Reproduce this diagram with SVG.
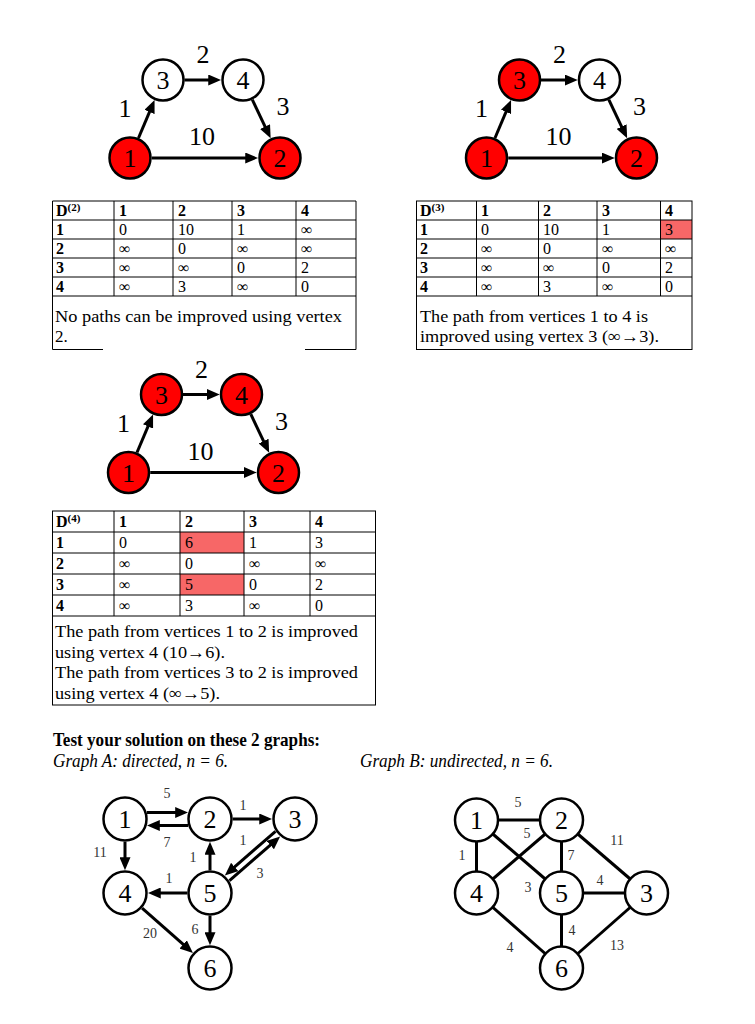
<svg xmlns="http://www.w3.org/2000/svg" width="755" height="1024" viewBox="0 0 755 1024">
<style>
.bg{fill:#fff}
.node circle{stroke:#000;stroke-width:2.5}
.red{fill:#ff0000}
.wht{fill:#fff}
.nl{font-family:"Liberation Serif",serif;font-size:26px;text-anchor:middle;fill:#000}
.el{font-family:"Liberation Serif",serif;font-size:26px;text-anchor:middle;fill:#000}
.wl{font-family:"Liberation Serif",serif;font-size:14px;text-anchor:middle;fill:#333}
.e{stroke:#000;stroke-width:3;fill:none}
.ea{marker-end:url(#ah)}
.tb{stroke:#000;stroke-width:1;fill:none}
.ct{font-family:"Liberation Serif",serif;font-size:16px;fill:#000}
.b{font-weight:bold}
.tx{font-family:"Liberation Serif",serif;font-size:17px;fill:#000}
.hl{fill:#f76767}
.h1{font-family:"Liberation Serif",serif;font-size:19px;font-weight:bold;fill:#000}
.h2{font-family:"Liberation Serif",serif;font-size:19px;font-style:italic;fill:#000}
</style>
<defs>
<marker id="ah" markerUnits="userSpaceOnUse" markerWidth="13" markerHeight="11" refX="8" refY="5.5" orient="auto" viewBox="0 0 13 11"><path d="M0,0 L13,5.5 L0,11 z" fill="#000"/></marker>
</defs>
<rect class="bg" x="0" y="0" width="755" height="1024"/>

<!-- Table D(2) -->
<g id="table-d2">
<g class="ct">
<text class="b" x="56" y="215.5">D<tspan font-size="11" dy="-5">(2)</tspan></text>
<text class="b" x="119" y="215.5">1</text><text class="b" x="178" y="215.5">2</text><text class="b" x="237" y="215.5">3</text><text class="b" x="301" y="215.5">4</text>
<text class="b" x="56" y="234.5">1</text><text x="119" y="234.5">0</text><text x="178" y="234.5">10</text><text x="237" y="234.5">1</text><text x="301" y="234.5">∞</text>
<text class="b" x="56" y="253.5">2</text><text x="119" y="253.5">∞</text><text x="178" y="253.5">0</text><text x="237" y="253.5">∞</text><text x="301" y="253.5">∞</text>
<text class="b" x="56" y="272.5">3</text><text x="119" y="272.5">∞</text><text x="178" y="272.5">∞</text><text x="237" y="272.5">0</text><text x="301" y="272.5">2</text>
<text class="b" x="56" y="291.5">4</text><text x="119" y="291.5">∞</text><text x="178" y="291.5">3</text><text x="237" y="291.5">∞</text><text x="301" y="291.5">0</text>
</g>
<text class="tx" x="55" y="322" textLength="287" lengthAdjust="spacingAndGlyphs">No paths can be improved using vertex</text>
<text class="tx" x="55" y="342">2.</text>
<path class="tb" d="M103,349.5 H52.5 V201 H356 V349.5 H305"/>
<path class="tb" d="M52.5,220 H356 M52.5,239 H356 M52.5,258 H356 M52.5,277 H356 M52.5,296 H356 M114,201 V296 M173,201 V296 M232,201 V296 M296,201 V296"/>
</g>

<!-- Table D(3) -->
<g id="table-d3">
<rect class="hl" x="660.5" y="220" width="31.5" height="19"/>
<g class="ct">
<text class="b" x="420" y="215.5">D<tspan font-size="11" dy="-5">(3)</tspan></text>
<text class="b" x="481" y="215.5">1</text><text class="b" x="543" y="215.5">2</text><text class="b" x="602" y="215.5">3</text><text class="b" x="665" y="215.5">4</text>
<text class="b" x="420" y="234.5">1</text><text x="481" y="234.5">0</text><text x="543" y="234.5">10</text><text x="602" y="234.5">1</text><text x="665" y="234.5">3</text>
<text class="b" x="420" y="253.5">2</text><text x="481" y="253.5">∞</text><text x="543" y="253.5">0</text><text x="602" y="253.5">∞</text><text x="665" y="253.5">∞</text>
<text class="b" x="420" y="272.5">3</text><text x="481" y="272.5">∞</text><text x="543" y="272.5">∞</text><text x="602" y="272.5">0</text><text x="665" y="272.5">2</text>
<text class="b" x="420" y="291.5">4</text><text x="481" y="291.5">∞</text><text x="543" y="291.5">3</text><text x="602" y="291.5">∞</text><text x="665" y="291.5">0</text>
</g>
<text class="tx" x="420" y="322" textLength="228" lengthAdjust="spacingAndGlyphs">The path from vertices 1 to 4 is</text>
<text class="tx" x="420" y="342" textLength="239" lengthAdjust="spacingAndGlyphs">improved using vertex 3 (∞→3).</text>
<rect class="tb" x="416.5" y="201" width="275.5" height="148.5"/>
<path class="tb" d="M416.5,220 H692 M416.5,239 H692 M416.5,258 H692 M416.5,277 H692 M416.5,296 H692 M476.5,201 V296 M538.5,201 V296 M597,201 V296 M660.5,201 V296"/>
</g>

<!-- Table D(4) -->
<g id="table-d4">
<rect class="hl" x="180" y="532" width="64" height="21"/>
<rect class="hl" x="180" y="574" width="64" height="21"/>
<g class="ct">
<text class="b" x="56" y="526.5">D<tspan font-size="11" dy="-5">(4)</tspan></text>
<text class="b" x="119" y="526.5">1</text><text class="b" x="185" y="526.5">2</text><text class="b" x="249" y="526.5">3</text><text class="b" x="315" y="526.5">4</text>
<text class="b" x="56" y="547.5">1</text><text x="119" y="547.5">0</text><text x="185" y="547.5">6</text><text x="249" y="547.5">1</text><text x="315" y="547.5">3</text>
<text class="b" x="56" y="568.5">2</text><text x="119" y="568.5">∞</text><text x="185" y="568.5">0</text><text x="249" y="568.5">∞</text><text x="315" y="568.5">∞</text>
<text class="b" x="56" y="589.5">3</text><text x="119" y="589.5">∞</text><text x="185" y="589.5">5</text><text x="249" y="589.5">0</text><text x="315" y="589.5">2</text>
<text class="b" x="56" y="610.5">4</text><text x="119" y="610.5">∞</text><text x="185" y="610.5">3</text><text x="249" y="610.5">∞</text><text x="315" y="610.5">0</text>
</g>
<text class="tx" x="55" y="637" textLength="303" lengthAdjust="spacingAndGlyphs">The path from vertices 1 to 2 is improved</text>
<text class="tx" x="55" y="658" textLength="170" lengthAdjust="spacingAndGlyphs">using vertex 4 (10→6).</text>
<text class="tx" x="55" y="678" textLength="303" lengthAdjust="spacingAndGlyphs">The path from vertices 3 to 2 is improved</text>
<text class="tx" x="55" y="699" textLength="165" lengthAdjust="spacingAndGlyphs">using vertex 4 (∞→5).</text>
<rect class="tb" x="52.5" y="511" width="323" height="194"/>
<path class="tb" d="M52.5,532 H375.5 M52.5,553 H375.5 M52.5,574 H375.5 M52.5,595 H375.5 M52.5,616 H375.5 M114,511 V616 M180,511 V616 M244,511 V616 M310,511 V616"/>
</g>

<!-- Graph 1 (top-left) -->
<g id="graph1">
<g id="g1-connectors">
<line class="e ea" x1="184.5" y1="80" x2="216.25" y2="80"/>
<line class="e ea" x1="151.75" y1="158" x2="253.25" y2="158"/>
<line class="e ea" x1="138.5" y1="138" x2="152.6" y2="104.6"/>
<line class="e ea" x1="252.3" y1="99.7" x2="268.5" y2="133.8"/>
<text class="el" x="203" y="63">2</text>
<text class="el" x="125" y="117">1</text>
<text class="el" x="283" y="115">3</text>
<text class="el" x="202" y="145">10</text>
</g>
<g id="g1-n1" class="node"><circle class="red" cx="130" cy="158" r="20.5"/><text class="nl" x="130" y="167">1</text></g>
<g id="g1-n2" class="node"><circle class="red" cx="280" cy="158" r="20.5"/><text class="nl" x="280" y="167">2</text></g>
<g id="g1-n3" class="node"><circle class="wht" cx="163" cy="80" r="20.5"/><text class="nl" x="163" y="89">3</text></g>
<g id="g1-n4" class="node"><circle class="wht" cx="243" cy="80" r="20.5"/><text class="nl" x="243" y="89">4</text></g>
</g>

<!-- Graph 2 (top-right) -->
<g id="graph2" transform="translate(356.5,0)">
<g id="g2-connectors">
<line class="e ea" x1="184.5" y1="80" x2="216.25" y2="80"/>
<line class="e ea" x1="151.75" y1="158" x2="253.25" y2="158"/>
<line class="e ea" x1="138.5" y1="138" x2="152.6" y2="104.6"/>
<line class="e ea" x1="252.3" y1="99.7" x2="268.5" y2="133.8"/>
<text class="el" x="203" y="63">2</text>
<text class="el" x="125" y="117">1</text>
<text class="el" x="283" y="115">3</text>
<text class="el" x="202" y="145">10</text>
</g>
<g id="g2-n1" class="node"><circle class="red" cx="130" cy="158" r="20.5"/><text class="nl" x="130" y="167">1</text></g>
<g id="g2-n2" class="node"><circle class="red" cx="280" cy="158" r="20.5"/><text class="nl" x="280" y="167">2</text></g>
<g id="g2-n3" class="node"><circle class="red" cx="163" cy="80" r="20.5"/><text class="nl" x="163" y="89">3</text></g>
<g id="g2-n4" class="node"><circle class="wht" cx="243" cy="80" r="20.5"/><text class="nl" x="243" y="89">4</text></g>
</g>

<!-- Graph 3 (middle) -->
<g id="graph3" transform="translate(-1.5,314.5)">
<g id="g3-connectors">
<line class="e ea" x1="184.5" y1="80" x2="216.25" y2="80"/>
<line class="e ea" x1="151.75" y1="158" x2="253.25" y2="158"/>
<line class="e ea" x1="138.5" y1="138" x2="152.6" y2="104.6"/>
<line class="e ea" x1="252.3" y1="99.7" x2="268.5" y2="133.8"/>
<text class="el" x="203" y="63">2</text>
<text class="el" x="125" y="117">1</text>
<text class="el" x="283" y="115">3</text>
<text class="el" x="202" y="145">10</text>
</g>
<g id="g3-n1" class="node"><circle class="red" cx="130" cy="158" r="20.5"/><text class="nl" x="130" y="167">1</text></g>
<g id="g3-n2" class="node"><circle class="red" cx="280" cy="158" r="20.5"/><text class="nl" x="280" y="167">2</text></g>
<g id="g3-n3" class="node"><circle class="red" cx="163" cy="80" r="20.5"/><text class="nl" x="163" y="89">3</text></g>
<g id="g3-n4" class="node"><circle class="red" cx="243" cy="80" r="20.5"/><text class="nl" x="243" y="89">4</text></g>
</g>

<!-- Headings -->
<text class="h1" x="53" y="746" textLength="267" lengthAdjust="spacingAndGlyphs">Test your solution on these 2 graphs:</text>
<text class="h2" x="53" y="767" textLength="175" lengthAdjust="spacingAndGlyphs">Graph A: directed, n = 6.</text>
<text class="h2" x="360" y="767" textLength="193" lengthAdjust="spacingAndGlyphs">Graph B: undirected, n = 6.</text>

<!-- Graph A -->
<g id="graphA">
<g id="gA-connectors">
<line class="e ea" x1="146.8" y1="812.5" x2="183.2" y2="812.5"/>
<line class="e ea" x1="188.2" y1="825.5" x2="151.8" y2="825.5"/>
<line class="e ea" x1="232.75" y1="819" x2="267.25" y2="819"/>
<line class="e ea" x1="125" y1="841.75" x2="125" y2="865.25"/>
<line class="e ea" x1="210" y1="870.25" x2="210" y2="846.75"/>
<line class="e ea" x1="187.25" y1="893" x2="152.75" y2="893"/>
<line class="e ea" x1="210" y1="915.75" x2="210" y2="940.25"/>
<line class="e ea" x1="142.1" y1="908.1" x2="189.2" y2="949.7"/>
<line class="e ea" x1="229.46" y1="880.7" x2="276.37" y2="839.86"/>
<line class="e ea" x1="275.54" y1="831.3" x2="228.63" y2="872.14"/>
<text class="wl" x="167" y="798">5</text>
<text class="wl" x="167" y="847">7</text>
<text class="wl" x="243" y="810">1</text>
<text class="wl" x="100" y="857">11</text>
<text class="wl" x="193" y="862">1</text>
<text class="wl" x="243" y="845">1</text>
<text class="wl" x="260" y="878">3</text>
<text class="wl" x="169" y="883">1</text>
<text class="wl" x="195" y="934">6</text>
<text class="wl" x="150" y="938">20</text>
</g>
<g id="gA-n1" class="node"><circle class="wht" cx="125" cy="819" r="21.5"/><text class="nl" x="125" y="828">1</text></g>
<g id="gA-n2" class="node"><circle class="wht" cx="210" cy="819" r="21.5"/><text class="nl" x="210" y="828">2</text></g>
<g id="gA-n3" class="node"><circle class="wht" cx="295" cy="819" r="21.5"/><text class="nl" x="295" y="828">3</text></g>
<g id="gA-n4" class="node"><circle class="wht" cx="125" cy="893" r="21.5"/><text class="nl" x="125" y="902">4</text></g>
<g id="gA-n5" class="node"><circle class="wht" cx="210" cy="893" r="21.5"/><text class="nl" x="210" y="902">5</text></g>
<g id="gA-n6" class="node"><circle class="wht" cx="210" cy="968" r="21.5"/><text class="nl" x="210" y="977">6</text></g>
</g>

<!-- Graph B -->
<g id="graphB">
<g id="gB-connectors">
<line class="e" x1="476.5" y1="820" x2="561.5" y2="820"/>
<line class="e" x1="476.5" y1="820" x2="476.5" y2="893"/>
<line class="e" x1="476.5" y1="820" x2="561.5" y2="893"/>
<line class="e" x1="561.5" y1="820" x2="476.5" y2="893"/>
<line class="e" x1="561.5" y1="820" x2="561.5" y2="893"/>
<line class="e" x1="561.5" y1="820" x2="646.5" y2="893"/>
<line class="e" x1="561.5" y1="893" x2="646.5" y2="893"/>
<line class="e" x1="561.5" y1="893" x2="561.5" y2="968"/>
<line class="e" x1="476.5" y1="893" x2="561.5" y2="968"/>
<line class="e" x1="646.5" y1="893" x2="561.5" y2="968"/>
<text class="wl" x="518" y="807">5</text>
<text class="wl" x="462" y="860">1</text>
<text class="wl" x="528" y="892">3</text>
<text class="wl" x="527" y="838">5</text>
<text class="wl" x="571" y="860">7</text>
<text class="wl" x="617" y="845">11</text>
<text class="wl" x="600" y="885">4</text>
<text class="wl" x="572" y="935">4</text>
<text class="wl" x="510" y="952">4</text>
<text class="wl" x="617" y="950">13</text>
</g>
<g id="gB-n1" class="node"><circle class="wht" cx="476.5" cy="820" r="21.5"/><text class="nl" x="476.5" y="829">1</text></g>
<g id="gB-n2" class="node"><circle class="wht" cx="561.5" cy="820" r="21.5"/><text class="nl" x="561.5" y="829">2</text></g>
<g id="gB-n3" class="node"><circle class="wht" cx="646.5" cy="893" r="21.5"/><text class="nl" x="646.5" y="902">3</text></g>
<g id="gB-n4" class="node"><circle class="wht" cx="476.5" cy="893" r="21.5"/><text class="nl" x="476.5" y="902">4</text></g>
<g id="gB-n5" class="node"><circle class="wht" cx="561.5" cy="893" r="21.5"/><text class="nl" x="561.5" y="902">5</text></g>
<g id="gB-n6" class="node"><circle class="wht" cx="561.5" cy="968" r="21.5"/><text class="nl" x="561.5" y="977">6</text></g>
</g>
</svg>
